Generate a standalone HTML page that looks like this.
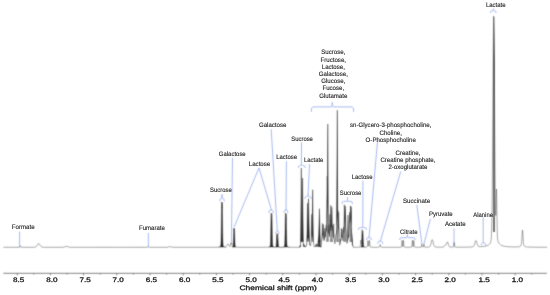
<!DOCTYPE html><html><head><meta charset="utf-8"><style>html,body{margin:0;padding:0;background:#fff;}svg{display:block}</style></head><body>
<svg width="550" height="295" viewBox="0 0 550 295">
<rect width="550" height="295" fill="#fff"/>
<defs><filter id="bl" x="0" y="0" width="550" height="295" filterUnits="userSpaceOnUse" color-interpolation-filters="sRGB"><feConvolveMatrix order="3" kernelMatrix="0.02250 0.10500 0.02250 0.10500 0.49000 0.10500 0.02250 0.10500 0.02250" divisor="1" edgeMode="duplicate" preserveAlpha="false"/></filter></defs><g filter="url(#bl)">
<g stroke="#a3b6ef" stroke-width="0.95" fill="none" stroke-linecap="butt">
<line x1="19.6" y1="231.6" x2="19.6" y2="246.5"/>
<line x1="148.4" y1="233.0" x2="148.4" y2="246.8"/>
<line x1="232.5" y1="157.9" x2="231.4" y2="242.3"/>
<line x1="259.0" y1="167.9" x2="234.1" y2="227.0"/>
<line x1="259.0" y1="167.9" x2="271.3" y2="209.5"/>
<line x1="271.2" y1="129.3" x2="277.3" y2="231.0"/>
<line x1="286.4" y1="161.3" x2="286.0" y2="210.3"/>
<line x1="301.5" y1="142.2" x2="301.4" y2="164.0"/>
<line x1="309.6" y1="164.0" x2="308.1" y2="193.5"/>
<line x1="377.6" y1="140.6" x2="369.0" y2="237.6"/>
<line x1="362.9" y1="180.6" x2="362.8" y2="226.8"/>
<line x1="347.5" y1="197.0" x2="347.5" y2="201.2"/>
<line x1="400.8" y1="171.4" x2="380.3" y2="241.3"/>
<line x1="416.8" y1="205.0" x2="422.0" y2="244.5"/>
<line x1="430.4" y1="218.8" x2="423.9" y2="244.2"/>
<line x1="454.0" y1="228.5" x2="454.0" y2="246.0"/>
<line x1="483.2" y1="216.8" x2="483.2" y2="242.8"/>
<path d="M219.80,201.30 Q219.80,198.60 220.93,198.60 L221.32,198.60 Q222.00,198.60 222.00,194.40 Q222.00,198.60 222.68,198.60 L223.18,198.60 Q224.30,198.60 224.30,201.30"/>
<path d="M268.80,213.00 Q268.80,210.40 269.95,210.40 L270.41,210.40 Q271.10,210.40 271.10,209.30 Q271.10,210.40 271.79,210.40 L272.25,210.40 Q273.40,210.40 273.40,213.00"/>
<path d="M275.60,233.40 Q275.60,231.20 276.45,231.20 L276.79,231.20 Q277.30,231.20 277.30,230.20 Q277.30,231.20 277.81,231.20 L278.15,231.20 Q279.00,231.20 279.00,233.40"/>
<path d="M284.00,212.80 Q284.00,210.20 284.95,210.20 L285.33,210.20 Q285.90,210.20 285.90,209.20 Q285.90,210.20 286.47,210.20 L286.85,210.20 Q287.80,210.20 287.80,212.80"/>
<path d="M298.30,168.00 Q298.30,165.60 299.80,165.60 L300.50,165.60 Q301.40,165.60 301.40,164.00 Q301.40,165.60 302.30,165.60 L303.80,165.60 Q305.30,165.60 305.30,168.00"/>
<path d="M304.80,198.80 Q304.80,196.60 306.30,196.60 L307.20,196.60 Q308.10,196.60 308.10,193.50 Q308.10,196.60 309.00,196.60 L309.70,196.60 Q311.20,196.60 311.20,198.80"/>
<path d="M311.30,112.00 Q311.30,106.90 312.80,106.90 L331.40,106.90 Q332.30,106.90 332.30,102.30 Q332.30,106.90 333.20,106.90 L352.20,106.90 Q353.70,106.90 353.70,112.00"/>
<path d="M342.00,203.90 Q342.00,201.40 343.50,201.40 L346.60,201.40 Q347.50,201.40 347.50,200.20 Q347.50,201.40 348.40,201.40 L351.00,201.40 Q352.50,201.40 352.50,203.90"/>
<path d="M358.40,229.80 Q358.40,227.60 359.90,227.60 L361.70,227.60 Q362.60,227.60 362.60,226.60 Q362.60,227.60 363.50,227.60 L365.00,227.60 Q366.50,227.60 366.50,229.80"/>
<path d="M366.50,240.00 Q366.50,237.80 367.73,237.80 L368.26,237.80 Q369.00,237.80 369.00,236.80 Q369.00,237.80 369.74,237.80 L370.17,237.80 Q371.40,237.80 371.40,240.00"/>
<path d="M377.80,243.80 Q377.80,241.40 379.05,241.40 L379.55,241.40 Q380.30,241.40 380.30,240.40 Q380.30,241.40 381.05,241.40 L381.55,241.40 Q382.80,241.40 382.80,243.80"/>
<path d="M399.70,240.00 Q399.70,237.70 401.20,237.70 L406.50,237.70 Q407.40,237.70 407.40,234.60 Q407.40,237.70 408.30,237.70 L413.80,237.70 Q415.30,237.70 415.30,240.00"/>
<path d="M481.30,245.40 Q481.30,243.00 482.38,243.00 L482.66,243.00 Q483.30,243.00 483.30,242.00 Q483.30,243.00 483.94,243.00 L484.53,243.00 Q485.60,243.00 485.60,245.40"/>
<path d="M490.40,13.00 Q490.40,10.90 491.85,10.90 L492.53,10.90 Q493.40,10.90 493.40,8.80 Q493.40,10.90 494.27,10.90 L494.75,10.90 Q496.20,10.90 496.20,13.00"/>
</g>
<defs><clipPath id="fc"><rect x="0" y="0" width="550" height="231"/><rect x="0" y="231" width="487" height="64"/><rect x="501" y="231" width="49" height="64"/></clipPath></defs>
<path clip-path="url(#fc)" d="M3.40,247.30 L201.70,247.30 L215.40,247.24 L217.80,247.16 L219.10,247.01 L219.60,246.86 L220.00,246.66 L220.30,246.38 L220.50,246.08 L220.60,245.83 L220.70,245.44 L220.80,244.75 L220.90,243.44 L221.00,241.04 L221.10,236.96 L221.20,230.79 L221.30,222.71 L221.40,213.79 L221.50,206.08 L221.60,202.03 L221.70,202.55 L221.80,205.68 L221.90,208.28 L222.00,208.35 L222.10,205.86 L222.20,202.81 L222.30,202.33 L222.40,206.37 L222.50,214.03 L222.60,222.89 L222.70,230.91 L222.80,237.03 L222.90,241.08 L223.00,243.46 L223.10,244.76 L223.20,245.45 L223.30,245.83 L223.40,246.08 L223.60,246.38 L223.90,246.65 L224.20,246.82 L225.20,247.07 L227.80,247.21 L231.20,247.16 L232.40,246.94 L232.70,246.76 L232.90,246.50 L233.00,246.20 L233.10,245.65 L233.20,244.63 L233.30,242.89 L233.40,240.27 L233.50,236.84 L233.60,233.05 L233.70,229.78 L233.80,228.07 L233.90,228.31 L234.00,229.68 L234.10,230.84 L234.20,230.94 L234.30,229.95 L234.40,228.72 L234.50,228.55 L234.60,230.24 L234.70,233.43 L234.80,237.12 L234.90,240.46 L235.00,243.01 L235.10,244.69 L235.20,245.69 L235.30,246.23 L235.40,246.52 L235.50,246.68 L235.80,246.91 L236.90,247.16 L239.50,247.26 L262.90,247.27 L267.80,247.14 L268.90,246.97 L269.60,246.68 L269.80,246.51 L270.00,246.25 L270.10,246.02 L270.20,245.64 L270.30,244.96 L270.40,243.73 L270.50,241.59 L270.60,238.18 L270.70,233.32 L270.80,227.27 L270.90,220.87 L271.00,215.57 L271.10,213.00 L271.20,213.78 L271.40,219.61 L271.50,220.85 L271.60,219.78 L271.80,214.23 L271.90,213.50 L272.00,216.05 L272.10,221.27 L272.20,227.57 L272.30,233.52 L272.40,238.29 L272.50,241.65 L272.60,243.75 L272.70,244.96 L272.80,245.63 L272.90,246.00 L273.10,246.37 L273.30,246.57 L273.70,246.79 L274.10,246.90 L274.70,246.95 L275.30,246.91 L275.70,246.76 L275.90,246.53 L276.00,246.26 L276.10,245.76 L276.20,244.89 L276.30,243.50 L276.40,241.52 L276.50,239.06 L276.60,236.47 L276.70,234.38 L276.80,233.50 L276.90,234.16 L277.00,235.94 L277.10,238.01 L277.20,239.59 L277.30,240.17 L277.40,239.58 L277.50,238.00 L277.60,235.94 L277.70,234.16 L277.80,233.50 L277.90,234.38 L278.00,236.48 L278.10,239.07 L278.20,241.54 L278.30,243.53 L278.40,244.92 L278.50,245.80 L278.60,246.30 L278.70,246.57 L278.90,246.82 L279.20,246.96 L280.50,247.12 L282.60,247.06 L283.30,246.93 L283.80,246.73 L284.20,246.39 L284.40,246.01 L284.50,245.64 L284.60,244.96 L284.70,243.73 L284.80,241.59 L284.90,238.18 L285.00,233.32 L285.10,227.27 L285.20,220.87 L285.30,215.57 L285.40,213.00 L285.50,213.78 L285.70,219.61 L285.80,220.85 L285.90,219.79 L286.10,214.23 L286.20,213.50 L286.30,216.05 L286.40,221.28 L286.50,227.58 L286.60,233.54 L286.70,238.31 L286.80,241.67 L286.90,243.78 L287.00,245.00 L287.10,245.66 L287.20,246.04 L287.30,246.26 L287.50,246.53 L288.10,246.89 L289.00,247.09 L291.20,247.22 L295.90,247.28 L299.00,247.30 L353.30,247.30 L357.10,247.27 L359.30,247.20 L360.40,247.06 L360.80,246.91 L361.10,246.66 L361.20,246.47 L361.30,246.12 L361.40,245.48 L361.50,244.38 L361.60,242.62 L361.70,240.11 L361.80,236.99 L361.90,233.68 L362.00,230.96 L362.10,229.65 L362.20,230.10 L362.40,233.32 L362.50,234.14 L362.60,233.82 L362.80,231.37 L362.90,231.07 L363.00,232.31 L363.10,234.83 L363.20,237.85 L363.30,240.70 L363.40,242.99 L363.50,244.60 L363.60,245.61 L363.70,246.19 L363.80,246.51 L363.90,246.69 L364.10,246.87 L364.60,247.06 L365.30,247.17 L368.10,247.27 L376.50,247.30 L547.10,247.30 L547.20,247.30 L3.40,247.30 Z" fill="#000" fill-opacity="0.85" stroke="none"/>
<path d="M299.00,247.30 L300.60,246.89 L301.30,168.00 L301.90,240.78 Z M301.90,240.78 L302.60,178.00 L303.30,246.38 L305.80,246.89 Z M305.80,246.89 L306.80,244.34 L307.50,203.06 L308.00,236.70 Z M308.00,236.70 L308.50,198.60 L309.60,244.85 L310.60,245.87 Z M310.60,245.87 L311.20,238.74 L311.70,214.27 L312.10,234.66 Z M312.10,234.66 L312.70,189.70 L313.30,240.78 L314.20,246.89 Z M314.20,246.89 L315.30,246.38 L316.30,243.83 L317.00,246.38 Z M317.00,246.38 L317.80,243.83 L318.70,234.66 L319.40,208.66 L319.90,228.54 L320.40,244.34 L321.00,247.30 Z M321.00,247.30 L321.80,238.74 L322.40,223.45 L322.90,234.66 Z M322.90,234.66 L323.40,224.47 L324.00,240.78 Z M324.00,240.78 L324.50,232.62 L325.00,228.03 L325.50,236.70 Z M325.50,236.70 L326.10,224.98 L326.50,230.58 Z M326.50,230.58 L327.20,176.00 L327.50,200.00 Z M327.50,200.00 L327.80,124.00 L328.30,232.62 Z M328.30,232.62 L328.90,224.47 L329.40,236.70 Z M329.40,236.70 L329.90,214.27 L330.40,230.58 Z M330.40,230.58 L330.90,205.30 L331.40,226.50 Z M331.40,226.50 L331.90,207.14 L332.30,230.58 Z M332.30,230.58 L332.70,225.48 L333.20,236.70 Z M333.20,236.70 L333.70,223.85 L334.20,238.74 L334.90,243.83 Z M334.90,243.83 L335.60,238.74 L336.50,232.62 L337.30,110.20 L337.70,215.29 Z M337.70,215.29 L337.90,210.19 L338.30,228.54 Z M338.30,228.54 L338.70,212.23 L339.30,238.74 L339.80,245.26 Z M339.80,245.26 L340.40,238.74 L340.90,240.78 Z M340.90,240.78 L341.40,228.34 L341.80,236.70 Z M341.80,236.70 L342.10,229.05 L342.60,238.74 L343.10,240.78 Z M343.10,240.78 L343.60,226.91 L343.90,232.62 Z M343.90,232.62 L344.30,204.69 L344.80,218.35 Z M344.80,218.35 L345.30,205.91 L345.80,225.48 L346.30,232.62 L347.00,243.53 Z M347.00,243.53 L347.50,236.70 L348.00,214.99 L348.50,232.62 L349.00,236.70 Z M349.00,236.70 L349.60,212.23 L350.00,222.43 Z M350.00,222.43 L350.40,205.91 L350.80,218.35 Z M350.80,218.35 L351.20,206.52 L351.70,236.70 L352.30,244.85 L353.30,247.30 Z" fill="#000" fill-opacity="0.75" stroke="none"/>
<path d="M300.10,241.74 L300.20,241.36 L300.30,240.55 L300.40,238.93 L300.50,236.02 L300.60,231.21 L300.70,224.02 L300.80,214.29 L300.90,202.54 L301.00,190.04 L301.10,178.76 L301.20,170.85 L301.30,168.00 L301.40,170.85 L301.50,178.76 L301.60,190.04 L301.70,202.54 L301.80,214.29 L301.90,224.02 L302.00,231.21 L302.10,236.02 L302.20,238.93 L302.30,240.55 L302.40,241.36 L302.50,241.74 Z M301.40,241.78 L301.50,241.45 L301.60,240.74 L301.70,239.35 L301.80,236.82 L301.90,232.67 L302.00,226.45 L302.10,218.04 L302.20,207.87 L302.30,197.06 L302.40,187.31 L302.50,180.47 L302.60,178.00 L302.70,180.47 L302.80,187.31 L302.90,197.06 L303.00,207.87 L303.10,218.04 L303.20,226.45 L303.30,232.67 L303.40,236.82 L303.50,239.35 L303.60,240.74 L303.70,241.45 L303.80,241.78 Z M306.30,241.86 L306.40,241.66 L306.50,241.23 L306.60,240.39 L306.70,238.85 L306.80,236.32 L306.90,232.54 L307.00,227.42 L307.10,221.23 L307.20,214.66 L307.30,208.72 L307.40,204.56 L307.50,203.06 L307.60,204.56 L307.70,208.72 L307.80,214.66 L307.90,221.23 L308.00,227.42 L308.10,232.54 L308.20,236.32 L308.30,238.85 L308.40,240.39 L308.50,241.23 L308.60,241.66 L308.70,241.86 Z M307.30,241.85 L307.40,241.63 L307.50,241.15 L307.60,240.20 L307.70,238.49 L307.80,235.67 L307.90,231.45 L308.00,225.75 L308.10,218.86 L308.20,211.53 L308.30,204.91 L308.40,200.27 L308.50,198.60 L308.60,200.27 L308.70,204.91 L308.80,211.53 L308.90,218.86 L309.00,225.75 L309.10,231.45 L309.20,235.67 L309.30,238.49 L309.40,240.20 L309.50,241.15 L309.60,241.63 L309.70,241.85 Z M311.50,241.82 L311.60,241.55 L311.70,240.97 L311.80,239.83 L311.90,237.77 L312.00,234.37 L312.10,229.29 L312.20,222.42 L312.30,214.11 L312.40,205.28 L312.50,197.31 L312.60,191.72 L312.70,189.70 L312.80,191.72 L312.90,197.31 L313.00,205.28 L313.10,214.11 L313.20,222.42 L313.30,229.29 L313.40,234.37 L313.50,237.77 L313.60,239.83 L313.70,240.97 L313.80,241.55 L313.90,241.82 Z M318.20,241.88 L318.30,241.71 L318.40,241.34 L318.50,240.62 L318.60,239.30 L318.70,237.14 L318.80,233.90 L318.90,229.52 L319.00,224.22 L319.10,218.59 L319.20,213.51 L319.30,209.95 L319.40,208.66 L319.50,209.95 L319.60,213.51 L319.70,218.59 L319.80,224.22 L319.90,229.52 L320.00,233.90 L320.10,237.14 L320.20,239.30 L320.30,240.62 L320.40,241.34 L320.50,241.71 L320.60,241.88 Z M326.00,241.77 L326.10,241.43 L326.20,240.70 L326.30,239.26 L326.40,236.66 L326.50,232.38 L326.60,225.96 L326.70,217.29 L326.80,206.80 L326.90,195.66 L327.00,185.60 L327.10,178.54 L327.20,176.00 L327.30,178.54 L327.40,185.60 L327.50,195.66 L327.60,206.80 L327.70,217.29 L327.80,225.96 L327.90,232.38 L328.00,236.66 L328.10,239.26 L328.20,240.70 L328.30,241.43 L328.40,241.77 Z M326.60,241.59 L326.70,240.98 L326.80,239.68 L326.90,237.11 L327.00,232.46 L327.10,224.79 L327.20,213.32 L327.30,197.82 L327.40,179.07 L327.50,159.15 L327.60,141.16 L327.70,128.55 L327.80,124.00 L327.90,128.55 L328.00,141.16 L328.10,159.15 L328.20,179.07 L328.30,197.82 L328.40,213.32 L328.50,224.79 L328.60,232.46 L328.70,237.11 L328.80,239.68 L328.90,240.98 L329.00,241.59 Z M329.70,241.87 L329.80,241.68 L329.90,241.28 L330.00,240.48 L330.10,239.03 L330.20,236.65 L330.30,233.08 L330.40,228.26 L330.50,222.43 L330.60,216.23 L330.70,210.64 L330.80,206.71 L330.90,205.30 L331.00,206.71 L331.10,210.64 L331.20,216.23 L331.30,222.43 L331.40,228.26 L331.50,233.08 L331.60,236.65 L331.70,239.03 L331.80,240.48 L331.90,241.28 L332.00,241.68 L332.10,241.87 Z M330.70,241.88 L330.80,241.70 L330.90,241.31 L331.00,240.55 L331.10,239.18 L331.20,236.92 L331.30,233.53 L331.40,228.95 L331.50,223.41 L331.60,217.52 L331.70,212.21 L331.80,208.48 L331.90,207.14 L332.00,208.48 L332.10,212.21 L332.20,217.52 L332.30,223.41 L332.40,228.95 L332.50,233.53 L332.60,236.92 L332.70,239.18 L332.80,240.55 L332.90,241.31 L333.00,241.70 L333.10,241.88 Z M336.10,241.54 L336.20,240.86 L336.30,239.41 L336.40,236.53 L336.50,231.34 L336.60,222.78 L336.70,209.97 L336.80,192.65 L336.90,171.71 L337.00,149.46 L337.10,129.37 L337.20,115.28 L337.30,110.20 L337.40,115.28 L337.50,129.37 L337.60,149.46 L337.70,171.71 L337.80,192.65 L337.90,209.97 L338.00,222.78 L338.10,231.34 L338.20,236.53 L338.30,239.41 L338.40,240.86 L338.50,241.54 Z M336.70,241.89 L336.80,241.73 L336.90,241.37 L337.00,240.68 L337.10,239.43 L337.20,237.36 L337.30,234.27 L337.40,230.09 L337.50,225.04 L337.60,219.67 L337.70,214.82 L337.80,211.42 L337.90,210.19 L338.00,211.42 L338.10,214.82 L338.20,219.67 L338.30,225.04 L338.40,230.09 L338.50,234.27 L338.60,237.36 L338.70,239.43 L338.80,240.68 L338.90,241.37 L339.00,241.73 L339.10,241.89 Z M343.10,241.87 L343.20,241.68 L343.30,241.27 L343.40,240.45 L343.50,238.98 L343.60,236.56 L343.70,232.93 L343.80,228.03 L343.90,222.10 L344.00,215.80 L344.10,210.12 L344.20,206.13 L344.30,204.69 L344.40,206.13 L344.50,210.12 L344.60,215.80 L344.70,222.10 L344.80,228.03 L344.90,232.93 L345.00,236.56 L345.10,238.98 L345.20,240.45 L345.30,241.27 L345.40,241.68 L345.50,241.87 Z M344.10,241.87 L344.20,241.69 L344.30,241.29 L344.40,240.50 L344.50,239.08 L344.60,236.74 L344.70,233.23 L344.80,228.49 L344.90,222.76 L345.00,216.66 L345.10,211.16 L345.20,207.30 L345.30,205.91 L345.40,207.30 L345.50,211.16 L345.60,216.66 L345.70,222.76 L345.80,228.49 L345.90,233.23 L346.00,236.74 L346.10,239.08 L346.20,240.50 L346.30,241.29 L346.40,241.69 L346.50,241.87 Z M349.20,241.87 L349.30,241.69 L349.40,241.29 L349.50,240.50 L349.60,239.08 L349.70,236.74 L349.80,233.23 L349.90,228.49 L350.00,222.76 L350.10,216.66 L350.20,211.16 L350.30,207.30 L350.40,205.91 L350.50,207.30 L350.60,211.16 L350.70,216.66 L350.80,222.76 L350.90,228.49 L351.00,233.23 L351.10,236.74 L351.20,239.08 L351.30,240.50 L351.40,241.29 L351.50,241.69 L351.60,241.87 Z M350.00,241.88 L350.10,241.69 L350.20,241.30 L350.30,240.53 L350.40,239.13 L350.50,236.83 L350.60,233.38 L350.70,228.72 L350.80,223.08 L350.90,217.09 L351.00,211.68 L351.10,207.89 L351.20,206.52 L351.30,207.89 L351.40,211.68 L351.50,217.09 L351.60,223.08 L351.70,228.72 L351.80,233.38 L351.90,236.83 L352.00,239.13 L352.10,240.53 L352.20,241.30 L352.30,241.69 L352.40,241.88 Z" fill="#000" fill-opacity="0.45" stroke="none"/>
<path d="M493.6,17 L494.2,17 L494.9,60 L494.9,232 L493.1,232 L493.1,60 Z" fill="#000" fill-opacity="0.6" stroke="none"/>
<path d="M3.40,247.30 L19.40,247.26 L19.70,247.20 L19.90,247.05 L20.00,246.90 L20.10,246.68 L20.30,246.11 L20.40,245.88 L20.50,245.79 L20.60,245.88 L20.70,246.11 L20.90,246.68 L21.00,246.90 L21.10,247.05 L21.30,247.20 L21.50,247.25 L23.40,247.29 L30.20,247.27 L33.30,247.23 L34.70,247.16 L35.20,247.09 L35.60,246.97 L36.00,246.77 L36.30,246.55 L36.60,246.25 L36.90,245.86 L37.20,245.40 L37.80,244.38 L38.10,243.93 L38.40,243.61 L38.70,243.50 L38.90,243.55 L39.20,243.81 L39.50,244.22 L40.20,245.40 L40.60,246.00 L41.00,246.46 L41.40,246.77 L41.90,247.01 L42.40,247.12 L43.20,247.20 L44.50,247.24 L54.10,247.29 L62.80,247.25 L63.60,247.19 L64.20,247.08 L64.80,246.88 L65.90,246.41 L66.50,246.30 L67.00,246.38 L68.40,246.95 L69.20,247.16 L70.30,247.26 L72.60,247.28 L146.70,247.29 L147.50,247.26 L147.80,247.18 L148.00,247.02 L148.40,246.54 L148.50,246.50 L148.60,246.54 L148.70,246.63 L149.10,247.11 L149.30,247.22 L149.60,247.27 L150.50,247.29 L167.20,247.27 L168.20,247.14 L168.60,247.00 L169.40,246.59 L169.80,246.50 L170.20,246.59 L171.00,247.00 L171.50,247.17 L172.10,247.25 L173.20,247.28 L212.70,247.27 L217.10,247.19 L218.30,247.11 L219.10,246.99 L219.60,246.85 L220.00,246.64 L220.30,246.36 L220.50,246.06 L220.60,245.81 L220.70,245.42 L220.80,244.73 L220.90,243.42 L221.00,241.02 L221.10,236.94 L221.20,230.77 L221.30,222.69 L221.40,213.76 L221.50,206.05 L221.60,202.00 L221.70,202.52 L221.80,205.65 L221.90,208.25 L222.00,208.32 L222.10,205.82 L222.20,202.78 L222.30,202.30 L222.40,206.34 L222.50,213.99 L222.60,222.85 L222.70,230.87 L222.80,236.99 L222.90,241.04 L223.00,243.42 L223.10,244.72 L223.20,245.40 L223.30,245.79 L223.40,246.03 L223.60,246.33 L224.00,246.65 L224.50,246.84 L225.00,246.91 L225.50,246.87 L225.90,246.70 L226.20,246.45 L226.50,246.07 L226.70,245.75 L227.30,244.61 L227.50,244.29 L227.70,244.07 L227.90,243.99 L228.10,244.07 L228.30,244.29 L228.50,244.61 L229.10,245.74 L229.40,246.19 L229.70,246.49 L229.90,246.58 L230.00,246.57 L230.10,246.47 L230.20,246.26 L230.30,245.89 L230.40,245.35 L230.60,243.92 L230.70,243.30 L230.80,243.00 L230.90,243.08 L231.10,243.69 L231.20,243.77 L231.30,243.55 L231.50,242.72 L231.60,242.60 L231.70,242.92 L231.80,243.60 L232.00,245.19 L232.10,245.80 L232.20,246.22 L232.30,246.47 L232.40,246.60 L232.50,246.64 L232.70,246.59 L232.80,246.51 L232.90,246.36 L233.00,246.08 L233.10,245.54 L233.20,244.53 L233.30,242.80 L233.40,240.19 L233.50,236.76 L233.60,232.97 L233.70,229.71 L233.80,228.00 L233.90,228.25 L234.00,229.62 L234.10,230.78 L234.20,230.88 L234.30,229.90 L234.40,228.68 L234.50,228.50 L234.60,230.20 L234.70,233.39 L234.80,237.08 L234.90,240.42 L235.00,242.97 L235.10,244.66 L235.20,245.66 L235.30,246.20 L235.40,246.49 L235.50,246.65 L235.80,246.88 L236.30,247.05 L237.00,247.15 L239.60,247.25 L248.70,247.29 L262.50,247.27 L266.00,247.22 L267.80,247.14 L268.90,246.97 L269.30,246.84 L269.60,246.68 L269.80,246.51 L270.00,246.25 L270.10,246.02 L270.20,245.64 L270.30,244.96 L270.40,243.73 L270.50,241.59 L270.60,238.18 L270.70,233.32 L270.80,227.27 L270.90,220.87 L271.00,215.57 L271.10,213.00 L271.20,213.78 L271.40,219.61 L271.50,220.85 L271.60,219.78 L271.80,214.23 L271.90,213.50 L272.00,216.05 L272.10,221.27 L272.20,227.56 L272.30,233.52 L272.40,238.29 L272.50,241.64 L272.60,243.75 L272.70,244.96 L272.80,245.63 L272.90,246.00 L273.00,246.22 L273.10,246.37 L273.30,246.57 L273.70,246.79 L274.10,246.90 L274.70,246.95 L275.30,246.91 L275.70,246.76 L275.80,246.67 L275.90,246.53 L276.00,246.26 L276.10,245.76 L276.20,244.89 L276.30,243.50 L276.40,241.52 L276.50,239.06 L276.60,236.47 L276.70,234.38 L276.80,233.50 L276.90,234.16 L277.00,235.94 L277.10,238.00 L277.20,239.59 L277.30,240.17 L277.40,239.58 L277.50,238.00 L277.60,235.94 L277.70,234.16 L277.80,233.50 L277.90,234.38 L278.00,236.48 L278.10,239.07 L278.20,241.54 L278.30,243.53 L278.40,244.92 L278.50,245.80 L278.60,246.30 L278.70,246.57 L278.80,246.72 L278.90,246.82 L279.20,246.96 L279.70,247.06 L280.50,247.12 L281.60,247.12 L282.60,247.06 L283.30,246.93 L283.80,246.73 L284.00,246.60 L284.20,246.39 L284.30,246.24 L284.40,246.01 L284.50,245.64 L284.60,244.96 L284.70,243.73 L284.80,241.59 L284.90,238.18 L285.00,233.32 L285.10,227.27 L285.20,220.87 L285.30,215.57 L285.40,213.00 L285.50,213.78 L285.70,219.61 L285.80,220.85 L285.90,219.79 L286.10,214.23 L286.20,213.50 L286.30,216.05 L286.40,221.28 L286.50,227.58 L286.60,233.53 L286.70,238.31 L286.80,241.67 L286.90,243.78 L287.00,245.00 L287.10,245.66 L287.20,246.04 L287.30,246.26 L287.50,246.53 L287.70,246.69 L288.20,246.92 L289.00,247.09 L290.30,247.19 L292.90,247.26 L299.00,247.30 L300.60,246.89 L301.30,168.00 L301.90,240.78 L302.60,178.00 L303.30,246.38 L305.80,246.89 L306.80,244.34 L307.50,203.06 L308.00,236.70 L308.50,198.60 L309.60,244.85 L310.60,245.87 L311.20,238.74 L311.70,214.27 L312.10,234.66 L312.70,189.70 L313.30,240.78 L314.20,246.89 L315.30,246.38 L316.30,243.83 L317.00,246.38 L317.80,243.83 L318.70,234.66 L319.40,208.66 L319.90,228.54 L320.40,244.34 L321.00,247.30 L321.80,238.74 L322.40,223.45 L322.90,234.66 L323.40,224.47 L324.00,240.78 L324.50,232.62 L325.00,228.03 L325.50,236.70 L326.10,224.98 L326.50,230.58 L327.20,176.00 L327.50,200.00 L327.80,124.00 L328.30,232.62 L328.90,224.47 L329.40,236.70 L329.90,214.27 L330.40,230.58 L330.90,205.30 L331.40,226.50 L331.90,207.14 L332.30,230.58 L332.70,225.48 L333.20,236.70 L333.70,223.85 L334.20,238.74 L334.90,243.83 L335.60,238.74 L336.50,232.62 L337.30,110.20 L337.70,215.29 L337.90,210.19 L338.30,228.54 L338.70,212.23 L339.30,238.74 L339.80,245.26 L340.40,238.74 L340.90,240.78 L341.40,228.34 L341.80,236.70 L342.10,229.05 L342.60,238.74 L343.10,240.78 L343.60,226.91 L343.90,232.62 L344.30,204.69 L344.80,218.35 L345.30,205.91 L345.80,225.48 L346.30,232.62 L347.00,243.53 L347.50,236.70 L348.00,214.99 L348.50,232.62 L349.00,236.70 L349.60,212.23 L350.00,222.43 L350.40,205.91 L350.80,218.35 L351.20,206.52 L351.70,236.70 L352.30,244.85 L353.30,247.30 L357.30,247.24 L358.80,247.17 L359.70,247.02 L359.90,246.93 L360.00,246.84 L360.10,246.69 L360.20,246.43 L360.30,245.96 L360.40,245.23 L360.50,244.20 L360.60,242.92 L360.70,241.57 L360.80,240.47 L360.90,240.00 L361.00,240.33 L361.10,241.27 L361.20,242.38 L361.30,243.29 L361.40,243.66 L361.50,243.26 L361.60,241.94 L361.70,239.68 L361.80,236.69 L361.90,233.46 L362.00,230.78 L362.10,229.50 L362.20,229.97 L362.40,233.22 L362.50,234.05 L362.60,233.73 L362.70,232.55 L362.80,231.30 L362.90,231.00 L363.00,232.25 L363.10,234.76 L363.20,237.79 L363.30,240.64 L363.40,242.94 L363.50,244.55 L363.60,245.56 L363.70,246.14 L363.80,246.46 L363.90,246.64 L364.10,246.83 L364.30,246.93 L365.00,247.09 L365.80,247.14 L366.60,247.11 L367.00,247.01 L367.10,246.94 L367.20,246.80 L367.30,246.56 L367.40,246.13 L367.50,245.43 L367.60,244.45 L367.80,241.94 L367.90,240.91 L368.00,240.50 L368.10,240.89 L368.20,241.90 L368.30,243.16 L368.40,244.36 L368.50,245.30 L368.60,245.92 L368.70,246.21 L368.80,246.22 L368.90,245.92 L369.00,245.30 L369.10,244.36 L369.20,243.16 L369.30,241.90 L369.40,240.89 L369.50,240.50 L369.60,240.91 L369.70,241.95 L369.90,244.47 L370.00,245.46 L370.10,246.15 L370.20,246.58 L370.30,246.83 L370.40,246.97 L370.60,247.09 L371.10,247.18 L371.80,247.23 L377.50,247.27 L378.70,247.24 L379.20,247.16 L379.40,247.01 L379.50,246.86 L379.60,246.63 L379.70,246.31 L379.80,245.89 L380.00,244.97 L380.10,244.63 L380.20,244.50 L380.30,244.63 L380.40,244.97 L380.60,245.89 L380.70,246.31 L380.80,246.63 L380.90,246.86 L381.10,247.11 L381.40,247.21 L383.90,247.28 L396.60,247.28 L399.80,247.25 L401.00,247.16 L401.30,247.05 L401.40,246.95 L401.50,246.73 L401.60,246.27 L401.70,245.41 L401.80,244.09 L401.90,242.44 L402.00,240.94 L402.10,240.30 L402.20,240.92 L402.30,242.41 L402.40,244.03 L402.50,245.33 L402.60,246.15 L402.70,246.56 L402.80,246.68 L402.90,246.57 L403.00,246.17 L403.10,245.38 L403.20,244.12 L403.30,242.54 L403.40,241.11 L403.50,240.50 L403.60,241.12 L403.70,242.58 L403.80,244.18 L403.90,245.46 L404.00,246.29 L404.10,246.74 L404.20,246.95 L404.30,247.05 L404.50,247.13 L405.00,247.21 L405.80,247.24 L409.50,247.25 L411.00,247.19 L411.40,247.12 L411.60,247.04 L411.70,246.94 L411.80,246.72 L411.90,246.26 L412.00,245.41 L412.10,244.09 L412.20,242.44 L412.30,240.94 L412.40,240.30 L412.50,240.92 L412.60,242.40 L412.70,244.03 L412.80,245.32 L412.90,246.14 L413.00,246.55 L413.10,246.67 L413.20,246.56 L413.30,246.16 L413.40,245.37 L413.50,244.12 L413.60,242.54 L413.70,241.11 L413.80,240.50 L413.90,241.12 L414.00,242.58 L414.10,244.18 L414.20,245.46 L414.30,246.28 L414.40,246.73 L414.50,246.94 L414.70,247.09 L415.30,247.20 L416.70,247.24 L419.90,247.24 L421.00,247.16 L421.20,247.02 L421.30,246.83 L421.40,246.47 L421.50,245.91 L421.60,245.21 L421.70,244.57 L421.80,244.30 L421.90,244.57 L422.00,245.20 L422.10,245.89 L422.20,246.45 L422.30,246.81 L422.40,247.00 L422.50,247.09 L422.70,247.14 L423.10,247.11 L423.30,246.97 L423.40,246.76 L423.50,246.37 L423.60,245.76 L423.70,244.99 L423.80,244.30 L423.90,244.00 L424.00,244.30 L424.10,244.99 L424.20,245.76 L424.30,246.37 L424.40,246.76 L424.50,246.98 L424.60,247.08 L425.00,247.17 L425.90,247.19 L427.50,247.15 L428.60,247.07 L429.20,246.93 L429.60,246.72 L429.90,246.42 L430.20,245.94 L430.50,245.23 L430.80,244.26 L431.00,243.48 L431.50,241.37 L431.70,240.62 L431.80,240.31 L431.90,240.05 L432.00,239.86 L432.10,239.74 L432.20,239.70 L432.30,239.74 L432.40,239.86 L432.50,240.05 L432.60,240.31 L432.70,240.62 L432.90,241.37 L433.40,243.48 L433.60,244.25 L433.90,245.22 L434.20,245.93 L434.50,246.41 L434.70,246.62 L434.90,246.78 L435.40,246.98 L436.00,247.08 L438.20,247.17 L441.40,247.17 L442.80,247.11 L443.20,247.04 L443.50,246.93 L443.80,246.74 L444.10,246.44 L444.80,245.41 L445.10,245.07 L445.30,244.95 L445.80,244.84 L446.00,244.71 L446.10,244.59 L446.20,244.44 L446.40,244.04 L446.90,242.66 L447.10,242.19 L447.20,242.02 L447.30,241.92 L447.40,241.90 L447.50,241.95 L447.60,242.08 L447.80,242.53 L448.00,243.16 L448.40,244.58 L448.60,245.22 L448.80,245.75 L449.00,246.17 L449.20,246.49 L449.50,246.79 L449.80,246.95 L450.10,247.03 L451.10,247.12 L452.60,247.14 L453.20,247.09 L453.40,247.02 L453.50,246.93 L453.60,246.74 L453.70,246.37 L453.80,245.74 L453.90,244.85 L454.00,243.79 L454.10,242.88 L454.20,242.50 L454.30,242.88 L454.40,243.80 L454.50,244.85 L454.60,245.75 L454.70,246.37 L454.80,246.74 L454.90,246.94 L455.00,247.03 L455.20,247.10 L455.90,247.17 L457.50,247.19 L465.90,247.15 L470.40,247.05 L472.50,246.89 L473.00,246.76 L473.40,246.53 L473.70,246.23 L474.00,245.75 L474.20,245.32 L474.50,244.50 L474.70,243.84 L475.20,242.04 L475.40,241.40 L475.60,240.91 L475.70,240.74 L475.80,240.64 L475.90,240.60 L476.00,240.63 L476.10,240.73 L476.20,240.89 L476.40,241.37 L476.60,241.99 L477.10,243.76 L477.30,244.41 L477.50,244.97 L477.70,245.44 L477.90,245.81 L478.20,246.20 L478.40,246.38 L478.70,246.54 L479.30,246.67 L480.30,246.70 L481.90,246.62 L483.50,246.46 L484.70,246.28 L485.80,246.05 L486.80,245.74 L487.60,245.42 L488.20,245.10 L488.80,244.71 L489.30,244.29 L489.80,243.77 L490.10,243.37 L490.40,242.86 L490.60,242.37 L490.70,242.05 L490.80,241.66 L490.90,241.16 L491.00,240.52 L491.10,239.70 L491.20,238.63 L491.30,237.26 L491.40,235.48 L491.50,233.21 L491.60,230.34 L491.70,226.73 L491.80,222.27 L491.90,216.81 L492.00,210.24 L492.10,202.44 L492.20,193.34 L492.30,182.90 L492.40,171.13 L492.50,158.10 L492.60,143.95 L492.70,128.90 L492.80,113.25 L492.90,97.37 L493.00,81.67 L493.10,66.63 L493.20,52.74 L493.30,40.49 L493.40,30.35 L493.50,22.71 L493.60,17.90 L493.70,16.10 L493.80,17.40 L493.90,21.73 L494.00,28.88 L494.10,38.56 L494.20,50.35 L494.30,63.81 L494.40,78.44 L494.50,93.75 L494.60,109.28 L494.70,124.59 L494.80,139.32 L494.90,153.17 L495.00,165.92 L495.10,177.40 L495.20,187.51 L495.30,196.20 L495.40,203.40 L495.50,209.05 L495.60,213.05 L495.70,215.27 L495.80,215.57 L495.90,213.89 L496.00,210.34 L496.10,205.30 L496.20,199.48 L496.30,193.95 L496.40,190.03 L496.50,189.00 L496.60,191.41 L496.70,196.78 L496.80,203.93 L496.90,211.61 L497.00,218.86 L497.10,225.07 L497.20,229.98 L497.30,233.60 L497.40,236.13 L497.50,237.84 L497.60,238.98 L497.70,239.75 L497.80,240.30 L497.90,240.73 L498.10,241.39 L498.30,241.91 L498.50,242.35 L498.70,242.73 L499.00,243.22 L499.30,243.63 L499.60,243.99 L500.30,244.64 L501.10,245.17 L502.00,245.61 L503.10,245.98 L504.60,246.32 L506.50,246.59 L508.80,246.78 L511.60,246.91 L514.80,246.97 L517.30,246.93 L518.80,246.79 L519.30,246.69 L519.80,246.53 L520.10,246.38 L520.40,246.17 L520.60,245.98 L520.80,245.71 L521.00,245.32 L521.10,245.06 L521.20,244.73 L521.30,244.31 L521.40,243.79 L521.50,243.12 L521.60,242.29 L521.70,241.27 L521.80,240.04 L521.90,238.58 L522.00,236.91 L522.20,233.26 L522.30,231.60 L522.40,230.43 L522.50,230.00 L522.60,230.43 L522.70,231.61 L522.80,233.26 L523.00,236.92 L523.10,238.59 L523.20,240.05 L523.30,241.29 L523.40,242.31 L523.50,243.14 L523.60,243.81 L523.70,244.34 L523.80,244.76 L523.90,245.09 L524.00,245.35 L524.10,245.57 L524.30,245.89 L524.50,246.12 L524.80,246.37 L525.40,246.67 L526.20,246.87 L527.30,247.01 L528.90,247.10 L534.50,247.20 L547.10,247.26" fill="none" stroke="#3a3a3a" stroke-width="0.45" stroke-linejoin="round"/>
<g stroke="#666" stroke-width="0.8" fill="none">
<line x1="3.3" y1="273.3" x2="546.9" y2="273.3"/>
<line x1="17.20" y1="273.3" x2="17.20" y2="275.3"/>
<line x1="33.80" y1="273.3" x2="33.80" y2="274.6"/>
<line x1="50.40" y1="273.3" x2="50.40" y2="275.3"/>
<line x1="67.00" y1="273.3" x2="67.00" y2="274.6"/>
<line x1="83.60" y1="273.3" x2="83.60" y2="275.3"/>
<line x1="100.20" y1="273.3" x2="100.20" y2="274.6"/>
<line x1="116.80" y1="273.3" x2="116.80" y2="275.3"/>
<line x1="133.40" y1="273.3" x2="133.40" y2="274.6"/>
<line x1="150.00" y1="273.3" x2="150.00" y2="275.3"/>
<line x1="166.60" y1="273.3" x2="166.60" y2="274.6"/>
<line x1="183.20" y1="273.3" x2="183.20" y2="275.3"/>
<line x1="199.80" y1="273.3" x2="199.80" y2="274.6"/>
<line x1="216.40" y1="273.3" x2="216.40" y2="275.3"/>
<line x1="233.00" y1="273.3" x2="233.00" y2="274.6"/>
<line x1="249.60" y1="273.3" x2="249.60" y2="275.3"/>
<line x1="266.20" y1="273.3" x2="266.20" y2="274.6"/>
<line x1="282.80" y1="273.3" x2="282.80" y2="275.3"/>
<line x1="299.40" y1="273.3" x2="299.40" y2="274.6"/>
<line x1="316.00" y1="273.3" x2="316.00" y2="275.3"/>
<line x1="332.60" y1="273.3" x2="332.60" y2="274.6"/>
<line x1="349.20" y1="273.3" x2="349.20" y2="275.3"/>
<line x1="365.80" y1="273.3" x2="365.80" y2="274.6"/>
<line x1="382.40" y1="273.3" x2="382.40" y2="275.3"/>
<line x1="399.00" y1="273.3" x2="399.00" y2="274.6"/>
<line x1="415.60" y1="273.3" x2="415.60" y2="275.3"/>
<line x1="432.20" y1="273.3" x2="432.20" y2="274.6"/>
<line x1="448.80" y1="273.3" x2="448.80" y2="275.3"/>
<line x1="465.40" y1="273.3" x2="465.40" y2="274.6"/>
<line x1="482.00" y1="273.3" x2="482.00" y2="275.3"/>
<line x1="498.60" y1="273.3" x2="498.60" y2="274.6"/>
<line x1="515.20" y1="273.3" x2="515.20" y2="275.3"/>
<line x1="531.80" y1="273.3" x2="531.80" y2="274.6"/>
</g>
</g>
<g font-family="'Liberation Sans', Arial, sans-serif" fill="#1c1c1c" stroke="#1c1c1c" stroke-width="0.12" font-size="6.5" text-rendering="geometricPrecision">
<text x="13.00" y="281.9" textLength="11.3" lengthAdjust="spacingAndGlyphs" font-size="6.5" stroke-width="0.3">8.5</text>
<text x="46.20" y="281.9" textLength="11.3" lengthAdjust="spacingAndGlyphs" font-size="6.5" stroke-width="0.3">8.0</text>
<text x="79.40" y="281.9" textLength="11.3" lengthAdjust="spacingAndGlyphs" font-size="6.5" stroke-width="0.3">7.5</text>
<text x="112.60" y="281.9" textLength="11.3" lengthAdjust="spacingAndGlyphs" font-size="6.5" stroke-width="0.3">7.0</text>
<text x="145.80" y="281.9" textLength="11.3" lengthAdjust="spacingAndGlyphs" font-size="6.5" stroke-width="0.3">6.5</text>
<text x="179.00" y="281.9" textLength="11.3" lengthAdjust="spacingAndGlyphs" font-size="6.5" stroke-width="0.3">6.0</text>
<text x="212.20" y="281.9" textLength="11.3" lengthAdjust="spacingAndGlyphs" font-size="6.5" stroke-width="0.3">5.5</text>
<text x="245.40" y="281.9" textLength="11.3" lengthAdjust="spacingAndGlyphs" font-size="6.5" stroke-width="0.3">5.0</text>
<text x="278.60" y="281.9" textLength="11.3" lengthAdjust="spacingAndGlyphs" font-size="6.5" stroke-width="0.3">4.5</text>
<text x="311.80" y="281.9" textLength="11.3" lengthAdjust="spacingAndGlyphs" font-size="6.5" stroke-width="0.3">4.0</text>
<text x="345.00" y="281.9" textLength="11.3" lengthAdjust="spacingAndGlyphs" font-size="6.5" stroke-width="0.3">3.5</text>
<text x="378.20" y="281.9" textLength="11.3" lengthAdjust="spacingAndGlyphs" font-size="6.5" stroke-width="0.3">3.0</text>
<text x="411.40" y="281.9" textLength="11.3" lengthAdjust="spacingAndGlyphs" font-size="6.5" stroke-width="0.3">2.5</text>
<text x="444.60" y="281.9" textLength="11.3" lengthAdjust="spacingAndGlyphs" font-size="6.5" stroke-width="0.3">2.0</text>
<text x="478.50" y="281.9" textLength="11.3" lengthAdjust="spacingAndGlyphs" font-size="6.5" stroke-width="0.3">1.5</text>
<text x="511.70" y="281.9" textLength="11.3" lengthAdjust="spacingAndGlyphs" font-size="6.5" stroke-width="0.3">1.0</text>
<text x="239.5" y="289.6" textLength="77.4" lengthAdjust="spacingAndGlyphs" font-size="6.5" stroke-width="0.3">Chemical shift (ppm)</text>
<text x="11.8" y="229" textLength="22.8" lengthAdjust="spacingAndGlyphs">Formate</text>
<text x="139.0" y="230.4" textLength="25.8" lengthAdjust="spacingAndGlyphs">Fumarate</text>
<text x="210.1" y="192" textLength="21.6" lengthAdjust="spacingAndGlyphs">Sucrose</text>
<text x="218.8" y="156" textLength="26.9" lengthAdjust="spacingAndGlyphs">Galactose</text>
<text x="248.8" y="166" textLength="21.4" lengthAdjust="spacingAndGlyphs">Lactose</text>
<text x="258.9" y="127" textLength="27.5" lengthAdjust="spacingAndGlyphs">Galactose</text>
<text x="276.3" y="159" textLength="20.7" lengthAdjust="spacingAndGlyphs">Lactose</text>
<text x="291.3" y="141" textLength="21.6" lengthAdjust="spacingAndGlyphs">Sucrose</text>
<text x="304.0" y="162" textLength="19.4" lengthAdjust="spacingAndGlyphs">Lactate</text>
<text x="351.7" y="179" textLength="20.9" lengthAdjust="spacingAndGlyphs">Lactose</text>
<text x="339.7" y="195" textLength="21.7" lengthAdjust="spacingAndGlyphs">Sucrose</text>
<text x="402.9" y="203" textLength="27.2" lengthAdjust="spacingAndGlyphs">Succinate</text>
<text x="428.9" y="216" textLength="23.8" lengthAdjust="spacingAndGlyphs">Pyruvate</text>
<text x="400.0" y="234" textLength="17.6" lengthAdjust="spacingAndGlyphs">Citrate</text>
<text x="444.9" y="226" textLength="20.7" lengthAdjust="spacingAndGlyphs">Acetate</text>
<text x="473.2" y="217" textLength="19.8" lengthAdjust="spacingAndGlyphs">Alanine</text>
<text x="485.9" y="7" textLength="19.7" lengthAdjust="spacingAndGlyphs">Lactate</text>
<text x="321.26" y="54.4" textLength="24.07" lengthAdjust="spacingAndGlyphs">Sucrose,</text>
<text x="320.59" y="61.6" textLength="25.42" lengthAdjust="spacingAndGlyphs">Fructose,</text>
<text x="321.77" y="68.8" textLength="23.06" lengthAdjust="spacingAndGlyphs">Lactose,</text>
<text x="318.72" y="76.0" textLength="29.16" lengthAdjust="spacingAndGlyphs">Galactose,</text>
<text x="321.26" y="83.2" textLength="24.07" lengthAdjust="spacingAndGlyphs">Glucose,</text>
<text x="322.45" y="90.4" textLength="21.70" lengthAdjust="spacingAndGlyphs">Fucose,</text>
<text x="319.23" y="97.6" textLength="28.14" lengthAdjust="spacingAndGlyphs">Glutamate</text>
<text x="350.01" y="127.2" textLength="81.38" lengthAdjust="spacingAndGlyphs">sn-Glycero-3-phosphocholine,</text>
<text x="379.51" y="134.6" textLength="22.38" lengthAdjust="spacingAndGlyphs">Choline,</text>
<text x="365.61" y="142.0" textLength="50.19" lengthAdjust="spacingAndGlyphs">O-Phosphocholine</text>
<text x="395.52" y="155.0" textLength="24.75" lengthAdjust="spacingAndGlyphs">Creatine,</text>
<text x="380.43" y="162.1" textLength="54.94" lengthAdjust="spacingAndGlyphs">Creatine phosphate,</text>
<text x="388.40" y="169.2" textLength="39.00" lengthAdjust="spacingAndGlyphs">2-oxoglutarate</text>
</g>
</svg></body></html>
